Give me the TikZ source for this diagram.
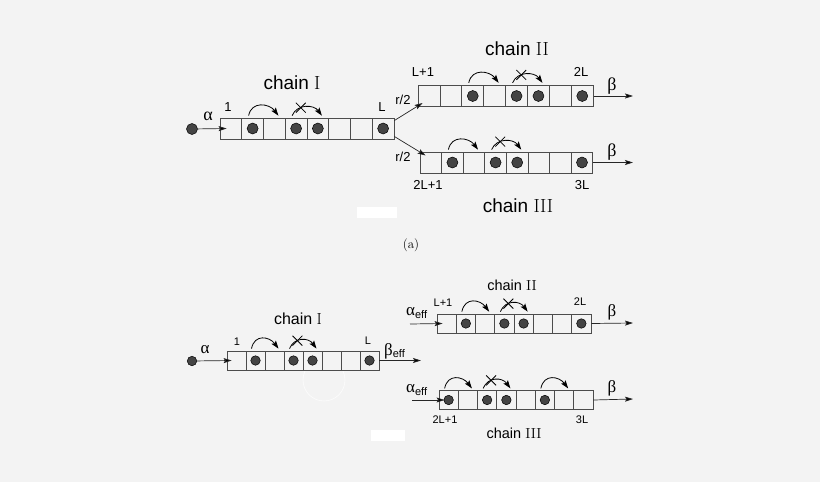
\documentclass[tikz,border=0pt]{standalone}
\usepackage{fontspec}
\newfontfamily\labelfont{Liberation Sans}
\newfontfamily\greekfont{Liberation Serif}
\usetikzlibrary{arrows.meta,shapes.misc}
\definecolor{bgcol}{RGB}{243,243,243}
\definecolor{dotcol}{RGB}{68,68,68}
\tikzset{
  cell/.style={draw=black!70, fill=bgcol, line width=0.8pt, inner sep=0pt},
  ptcl/.style={circle, draw=black, fill=dotcol, line width=0.5pt, inner sep=0pt},
  feed/.style={draw=black!85, line width=0.7pt, -{Stealth[length=8pt,width=5pt,inset=1.5pt,fill=black]}},
  hop/.style={line width=0.8pt, -{Stealth[length=8pt,width=5.5pt,inset=1.5pt]}},
  cross/.style={cross out, draw, line width=0.8pt, minimum size=9pt, inner sep=0pt},
  bigchain/.style={font=\labelfont\fontsize{19}{19}\selectfont},
  smallchain/.style={font=\labelfont\fontsize{14.5}{14.5}\selectfont},
  site/.style={font=\labelfont\fontsize{13}{13}\selectfont},
  smallsite/.style={font=\labelfont\fontsize{11}{11}\selectfont},
  rate/.style={font=\greekfont\fontsize{18}{18}\selectfont, inner sep=1pt},
  smallrate/.style={font=\greekfont\fontsize{17}{17}\selectfont, inner sep=1pt}
}
\newcommand{\effsub}{\raisebox{-0.35ex}{\labelfont\fontsize{11}{11}\selectfont eff}}
\begin{document}
\begin{tikzpicture}[x=1pt,y=-1pt]
  \fill[bgcol] (0,0) rectangle (820,482);
  \useasboundingbox (0,0) rectangle (820,482);
  \draw[white, opacity=0.8, line width=0.6pt] (324,380) circle (21);
  % lattice sites
  \foreach \nm/\xo/\yc/\w/\h in {tI/220/128.5/21.75/21, tII/418/96/21.9/21.5, tIII/420/162.5/21.6/21,
      bI/227/360.5/19/19, bII/437/323.5/19.25/19, bIII/439/400/19.25/18.5}
    \foreach \i in {0,...,7}
      \node[cell, minimum width=\w pt, minimum height=\h pt] (\nm-\i) at ({\xo+(\i+0.5)*\w}, \yc) {};
  % particles
  \foreach \nm/\occ/\d in {tI/{1,3,4,7}/11, tII/{2,4,5,7}/11, tIII/{1,3,4,7}/11,
      bI/{1,3,4,7}/9.5, bII/{1,3,4,7}/9.5, bIII/{0,2,3,5}/9.5}
    \foreach \i in \occ
      \node[ptcl, minimum size=\d pt] (\nm-p\i) at (\nm-\i) {};
  % allowed and blocked hops
  \foreach \a/\b in {tI-1/tI-2, tII-2/tII-3, tIII-1/tIII-2, bI-1/bI-2, bII-1/bII-2, bIII-0/bIII-1, bIII-5/bIII-6}
    \draw[hop] ([shift={(-4,-2)}]\a.north) .. controls +(3,-15) and +(-9,-12) .. ([shift={(4,-2)}]\b.north);
  \foreach \a/\b in {tI-3/tI-4, tII-4/tII-5, tIII-3/tIII-4, bI-3/bI-4, bII-3/bII-4, bIII-2/bIII-3}
    \draw[hop] ([shift={(-4,-2)}]\a.north) .. controls +(5,-12) and +(-8,-11) .. ([shift={(4,-2)}]\b.north)
      node[cross, pos=0.35] {};

  % (a)
  \node[ptcl, minimum size=11pt] (srcT) at (192,129) {};
  \draw[feed] (srcT) -- ([shift={(7,0)}]tI-0.west);
  \node[rate] (alphaT) at (208,116) {α};
  \draw[feed] ([shift={(0,-8)}]tI-7.east) -- ([shift={(5,7)}]tII-0.west);
  \draw[feed] ([shift={(0,8)}]tI-7.east) -- ([shift={(6,-7)}]tIII-0.west);
  \node[site] (rUp) at (403,100) {r/2};
  \node[site] (rDown) at (403,157) {r/2};
  \coordinate (outTII) at (633,96);
  \coordinate (outTIII) at (633,162.5);
  \draw[feed] (tII-7.east) -- (outTII);
  \draw[feed] (tIII-7.east) -- (outTIII);
  \node[rate] (betaTII) at (612,86) {β};
  \node[rate] (betaTIII) at (612,152) {β};
  \node[bigchain] (nameTI) at (292,83) {chain {\rmfamily I}};
  \node[bigchain] (nameTII) at (517,49) {chain {\rmfamily II}};
  \node[bigchain] (nameTIII) at (518,206) {chain {\rmfamily III}};
  \node[site] (s1) at (228,107) {1};
  \node[site] (sL) at (382,107) {L};
  \node[site] (sL1) at (423,72) {L+1};
  \node[site] (s2L) at (581,72) {2L};
  \node[site] (s2L1) at (428,185) {2L+1};
  \node[site] (s3L) at (582,185) {3L};
  \node[font=\fontsize{13}{13}\selectfont] (capA) at (411,245) {(a)};
  \fill[white] (357,207) rectangle (397,218);

  % (b)
  \node[ptcl, minimum size=9.5pt] (srcB) at (192,361) {};
  \draw[feed] (srcB) -- ([shift={(5,0)}]bI-0.west);
  \node[smallrate] (alphaB) at (205,350) {α};
  \coordinate (outBI) at (421,360.5);
  \draw[feed] (bI-7.east) -- (outBI);
  \node[smallrate, anchor=west] (betaEff) at (383,351) {β\effsub};
  \coordinate (inBII) at (410,324);
  \coordinate (inBIII) at (412,400);
  \draw[feed] (inBII) -- ([shift={(6,0)}]bII-0.west);
  \draw[feed] (inBIII) -- ([shift={(6,0)}]bIII-0.west);
  \node[smallrate, anchor=west] (alphaEffII) at (405,313) {α\effsub};
  \node[smallrate, anchor=west] (alphaEffIII) at (405,390) {α\effsub};
  \coordinate (outBII) at (633,323);
  \coordinate (outBIII) at (633,399);
  \draw[feed] (bII-7.east) -- (outBII);
  \draw[feed] (bIII-7.east) -- (outBIII);
  \node[smallrate] (betaBII) at (612,312) {β};
  \node[smallrate] (betaBIII) at (612,388) {β};
  \node[font=\labelfont\fontsize{16}{16}\selectfont] (nameBI) at (298,319) {chain {\rmfamily I}};
  \node[smallchain] (nameBII) at (512,285) {chain {\rmfamily II}};
  \node[smallchain] (nameBIII) at (514,433) {chain {\rmfamily III}};
  \node[smallsite] (b1) at (237,342) {1};
  \node[smallsite] (bL) at (368,341) {L};
  \node[smallsite] (bL1) at (443,303) {L+1};
  \node[smallsite] (b2L) at (580,302) {2L};
  \node[smallsite] (b2L1) at (445,420) {2L+1};
  \node[smallsite] (b3L) at (582,420) {3L};
  \fill[white] (371,430) rectangle (405,441);
\end{tikzpicture}
\end{document}
